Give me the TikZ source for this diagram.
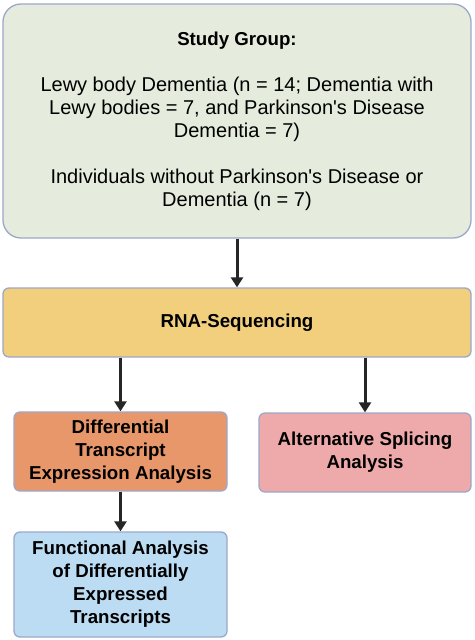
\documentclass[tikz,border=0pt]{standalone}
\usepackage{fontspec}
\setmainfont{Liberation Sans}[Ligatures=TeXOff]
\usetikzlibrary{arrows.meta}
\definecolor{edgeblue}{HTML}{9CA8C8}
\definecolor{studyfill}{HTML}{E5ECDD}
\definecolor{rnafill}{HTML}{F1CF7D}
\definecolor{difffill}{HTML}{E8976A}
\definecolor{splicefill}{HTML}{EEAAAA}
\definecolor{funcfill}{HTML}{BCDCF3}
\tikzset{
  stagebox/.style={draw=edgeblue,line width=1.3pt,rounded corners=6pt,align=center,
    inner sep=0pt,font=\bfseries\fontsize{18.7}{23}\selectfont},
  flowarrow/.style={-{Triangle[length=10pt,width=12pt]},line width=3pt,black!85}
}
\begin{document}
\begin{tikzpicture}[x=1pt,y=-1pt]
\useasboundingbox (0,0) rectangle (474,640);
\node[stagebox,fill=studyfill,rounded corners=18pt,minimum width=468pt,minimum height=234pt,
  font=\fontsize{20}{23}\selectfont] (study) at (237,121)
  {{\fontsize{18.7}{23}\selectfont\textbf{Study Group:}}\\[23pt]
   Lewy body Dementia (n = 14; Dementia with\\
   Lewy bodies = 7, and Parkinson's Disease\\
   Dementia = 7)\\[23pt]
   Individuals without Parkinson's Disease or\\
   Dementia (n = 7)};
\node[stagebox,fill=rnafill,minimum width=468pt,minimum height=69pt] (rna) at (237,322.5) {RNA-Sequencing};
\node[stagebox,fill=difffill,minimum width=213pt,minimum height=79pt] (diff) at (120.5,451.5)
  {Differential\\Transcript\\Expression Analysis};
\node[stagebox,fill=splicefill,minimum width=212pt,minimum height=79pt] (splice) at (365,452.5)
  {Alternative Splicing\\Analysis};
\node[stagebox,fill=funcfill,minimum width=213pt,minimum height=105pt] (func) at (120.5,584.5)
  {Functional Analysis\\of Differentially\\Expressed\\Transcripts};
% connectors
\draw[flowarrow] (study.south) -- (rna.north);
\draw[flowarrow] (rna.south -| diff.north) -- (diff.north);
\draw[flowarrow] (rna.south -| splice.north) -- (splice.north);
\draw[flowarrow] (diff.south) -- (func.north);
\end{tikzpicture}
\end{document}
